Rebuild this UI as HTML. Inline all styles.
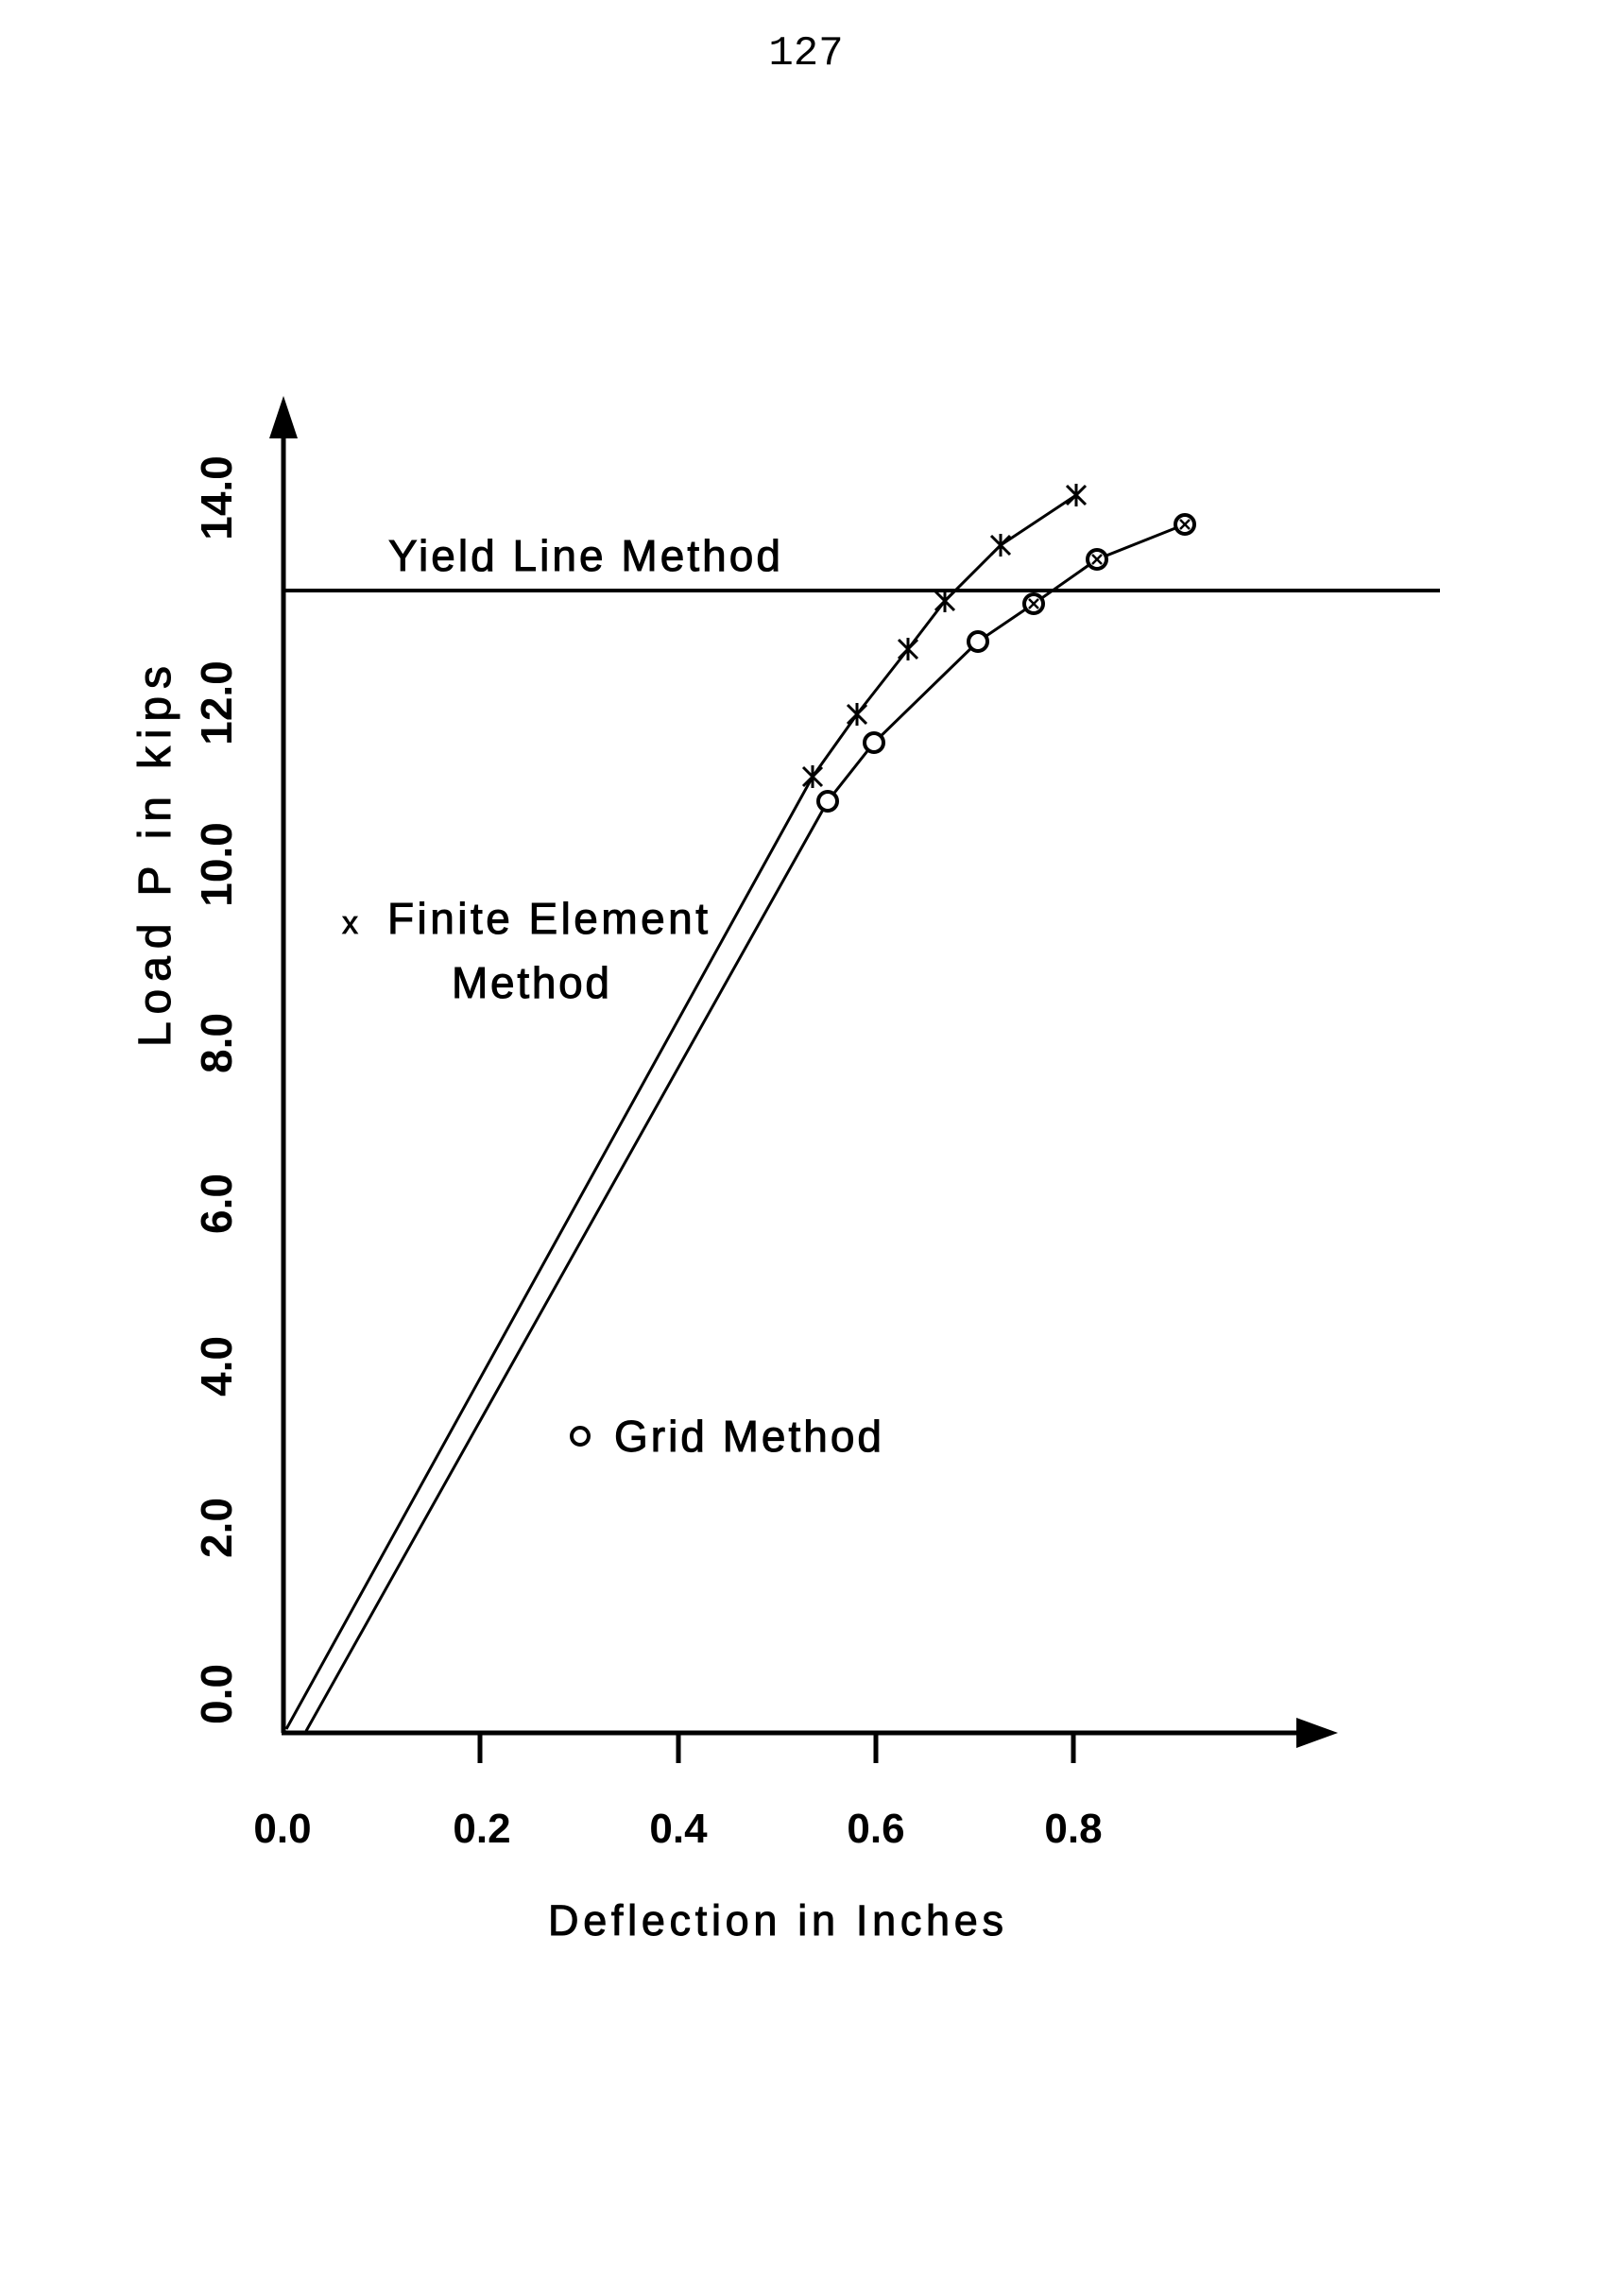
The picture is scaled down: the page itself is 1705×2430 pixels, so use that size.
<!DOCTYPE html>
<html><head><meta charset="utf-8"><style>
html,body{margin:0;padding:0;background:#fff;}
svg{display:block;}
text{font-family:"Liberation Sans",Arial,sans-serif;fill:#000;}
</style></head><body>
<svg width="1705" height="2430" viewBox="0 0 1705 2430" xmlns="http://www.w3.org/2000/svg">
<text x="853" y="68" style="font-family:'Liberation Mono',monospace" font-size="44" text-anchor="middle">127</text>
<!-- axes -->
<line x1="300" y1="1834" x2="300" y2="460" stroke="#000" stroke-width="5"/>
<polygon points="300,419 285,464 315,464" fill="#000"/>
<line x1="298" y1="1834" x2="1380" y2="1834" stroke="#000" stroke-width="5"/>
<polygon points="1416,1834 1372,1818 1372,1850" fill="#000"/>
<g stroke="#000" stroke-width="5">
<line x1="508" y1="1834" x2="508" y2="1866"/>
<line x1="718" y1="1834" x2="718" y2="1866"/>
<line x1="927" y1="1834" x2="927" y2="1866"/>
<line x1="1136" y1="1834" x2="1136" y2="1866"/>
</g>
<!-- yield line -->
<line x1="300" y1="625" x2="1524" y2="625" stroke="#000" stroke-width="4"/>
<!-- FE series -->
<polyline points="303,1830 860,822 907,756 961,687 1000,636 1059,577 1139,524" fill="none" stroke="#000" stroke-width="3"/>
<g stroke="#000" stroke-width="3">
<path d="M850,812l20,20M870,812l-20,20M860,810v24"/>
<path d="M897,746l20,20M917,746l-20,20M907,744v24"/>
<path d="M951,677l20,20M971,677l-20,20M961,675v24"/>
<path d="M990,626l20,20M1010,626l-20,20M1000,624v24"/>
<path d="M1049,567l20,20M1069,567l-20,20M1059,565v24"/>
<path d="M1129,514l20,20M1149,514l-20,20M1139,512v24"/>
</g>
<!-- Grid series -->
<polyline points="324,1832 876,848 925,786 1035,679 1094,639 1161,592 1254,555" fill="none" stroke="#000" stroke-width="3"/>
<g fill="#fff" stroke="#000" stroke-width="4">
<circle cx="876" cy="848" r="10"/><circle cx="925" cy="786" r="10"/><circle cx="1035" cy="679" r="10"/>
<circle cx="1094" cy="639" r="10"/><circle cx="1161" cy="592" r="10"/><circle cx="1254" cy="555" r="10"/>
</g>
<g stroke="#000" stroke-width="2.5">
<path d="M1089,634l10,10M1099,634l-10,10M1156,587l10,10M1166,587l-10,10M1249,550l10,10M1259,550l-10,10"/>
</g>
<!-- x labels -->
<g font-size="44" text-anchor="middle" style="font-weight:bold">
<text x="299" y="1950">0.0</text>
<text x="510" y="1950">0.2</text>
<text x="718" y="1950">0.4</text>
<text x="927" y="1950">0.6</text>
<text x="1136" y="1950">0.8</text>
</g>
<text x="580" y="2048" font-size="45" textLength="482" lengthAdjust="spacing" stroke="#000" stroke-width="1">Deflection in Inches</text>
<!-- y labels -->
<g font-size="46" text-anchor="middle" style="font-weight:bold">
<text transform="translate(245,527) rotate(-90)">14.0</text>
<text transform="translate(245,744) rotate(-90)">12.0</text>
<text transform="translate(245,915) rotate(-90)">10.0</text>
<text transform="translate(245,1104) rotate(-90)">8.0</text>
<text transform="translate(245,1274) rotate(-90)">6.0</text>
<text transform="translate(245,1446) rotate(-90)">4.0</text>
<text transform="translate(245,1617) rotate(-90)">2.0</text>
<text transform="translate(245,1793) rotate(-90)">0.0</text>
</g>
<text transform="translate(180,1108) rotate(-90)" font-size="48" textLength="403" lengthAdjust="spacing" stroke="#000" stroke-width="1">Load P in kips</text>
<!-- annotations -->
<text x="411" y="604" font-size="46" textLength="415" lengthAdjust="spacing" stroke="#000" stroke-width="1">Yield Line Method</text>
<text x="362" y="988" font-size="34" stroke="#000" stroke-width="0.8">x</text>
<text x="410" y="988" font-size="46" textLength="339" lengthAdjust="spacing" stroke="#000" stroke-width="1">Finite Element</text>
<text x="478" y="1056" font-size="46" textLength="167" lengthAdjust="spacing" stroke="#000" stroke-width="1">Method</text>
<circle cx="614" cy="1520" r="9" fill="none" stroke="#000" stroke-width="4"/>
<text x="650" y="1536" font-size="46" textLength="283" lengthAdjust="spacing" stroke="#000" stroke-width="1">Grid Method</text>
</svg>
</body></html>
